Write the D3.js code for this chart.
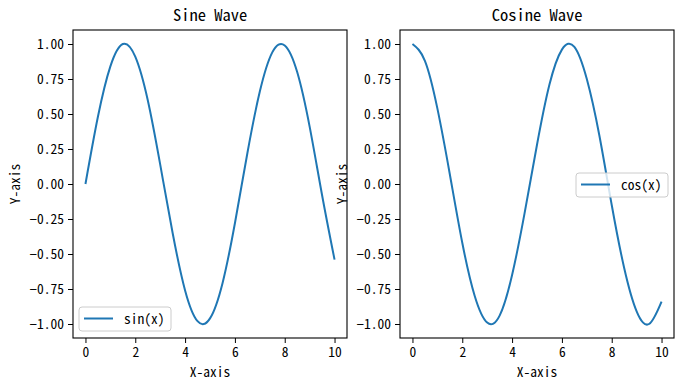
<!DOCTYPE html>
<html>
<head>
<meta charset="utf-8">
<script src="https://cdn.jsdelivr.net/npm/d3@7"></script>
<style>
  body { margin: 0; background: #fff; }
  svg { display: block; }
  text { font-family: "Noto Sans Mono CJK SC", "DejaVu Sans Mono", monospace; fill: #000; }
</style>
</head>
<body>
<svg id="chart" width="683" height="387"></svg>
<script>
// values, x from 0 to 10 in steps of 0.5
const xValues = [0, 0.5, 1, 1.5, 2, 2.5, 3, 3.5, 4, 4.5, 5, 5.5, 6, 6.5, 7, 7.5, 8, 8.5, 9, 9.5, 10];
const sineValues = [0, 0.48, 0.84, 1.0, 0.91, 0.60, 0.14, -0.35, -0.76, -0.98, -0.96, -0.71, -0.28, 0.22, 0.66, 0.94, 0.99, 0.80, 0.41, -0.08, -0.54];
const cosineValues = [1.0, 0.88, 0.54, 0.07, -0.42, -0.80, -0.99, -0.94, -0.65, -0.21, 0.28, 0.71, 0.96, 0.98, 0.75, 0.35, -0.15, -0.60, -0.91, -1.0, -0.84];
const xTicks = [0, 2, 4, 6, 8, 10];
const yTicks = [-1.0, -0.75, -0.5, -0.25, 0, 0.25, 0.5, 0.75, 1.0];

const svg = d3.select("#chart");
const lineColor = "#1f77b4";

// one panel per subplot
function drawPanel(opts) {
  const { left, top, width, height, title, values, legendLabel, legendPos } = opts;
  const g = svg.append("g").attr("transform", `translate(${left},${top})`);

  const x = d3.scaleLinear().domain([-0.5, 10.5]).range([0, width]);
  const y = d3.scaleLinear().domain([-1.1, 1.1]).range([height, 0]);

  // data line
  const line = d3.line()
    .x((d, i) => x(xValues[i]))
    .y(d => y(d))
    .curve(d3.curveNatural);

  g.append("path")
    .attr("d", line(values))
    .attr("fill", "none")
    .attr("stroke", lineColor)
    .attr("stroke-width", 2);

  // axes
  const xAxis = d3.axisBottom(x).tickValues(xTicks).tickSize(5).tickPadding(4)
    .tickFormat(d3.format("d"));
  const yAxis = d3.axisLeft(y).tickValues(yTicks).tickSize(5).tickPadding(4)
    .tickFormat(d => d3.format(".2f")(d).replace("-", "\u2212"));

  const gx = g.append("g").attr("transform", `translate(0,${height})`).call(xAxis);
  const gy = g.append("g").call(yAxis);
  [gx, gy].forEach(a => {
    a.select(".domain").remove();
    a.selectAll(".tick line").attr("stroke", "#000").attr("stroke-width", 1);
    a.selectAll(".tick text").attr("font-size", 13.5).attr("fill", "#000");
  });

  // frame
  g.append("rect")
    .attr("width", width).attr("height", height)
    .attr("fill", "none").attr("stroke", "#000").attr("stroke-width", 1.1);

  // titles & labels
  g.append("text")
    .attr("x", width / 2).attr("y", -9)
    .attr("text-anchor", "middle")
    .attr("font-size", 16.5)
    .text(title);

  g.append("text")
    .attr("x", width / 2).attr("y", height + 39)
    .attr("text-anchor", "middle")
    .attr("font-size", 13.5)
    .text("X-axis");

  g.append("text")
    .attr("transform", `translate(${-53},${height / 2}) rotate(-90)`)
    .attr("text-anchor", "middle")
    .attr("font-size", 13.5)
    .text("Y-axis");

  // legend
  const lg = g.append("g").attr("transform", `translate(${legendPos[0]},${legendPos[1]})`);
  lg.append("rect")
    .attr("width", 92).attr("height", 24).attr("rx", 3)
    .attr("fill", "#fff").attr("fill-opacity", 0.8)
    .attr("stroke", "#ccc").attr("stroke-width", 1);
  lg.append("line")
    .attr("x1", 5).attr("x2", 34).attr("y1", 11.5).attr("y2", 11.5)
    .attr("stroke", lineColor).attr("stroke-width", 2);
  lg.append("text")
    .attr("x", 45).attr("y", 16.5)
    .attr("font-size", 13.5)
    .text(legendLabel);
}

drawPanel({
  left: 73, top: 30, width: 274, height: 308,
  title: "Sine Wave", values: sineValues, legendLabel: "sin(x)",
  legendPos: [6, 277]
});

drawPanel({
  left: 400, top: 30, width: 274, height: 308,
  title: "Cosine Wave", values: cosineValues, legendLabel: "cos(x)",
  legendPos: [176, 143]
});
</script>
</body>
</html>
